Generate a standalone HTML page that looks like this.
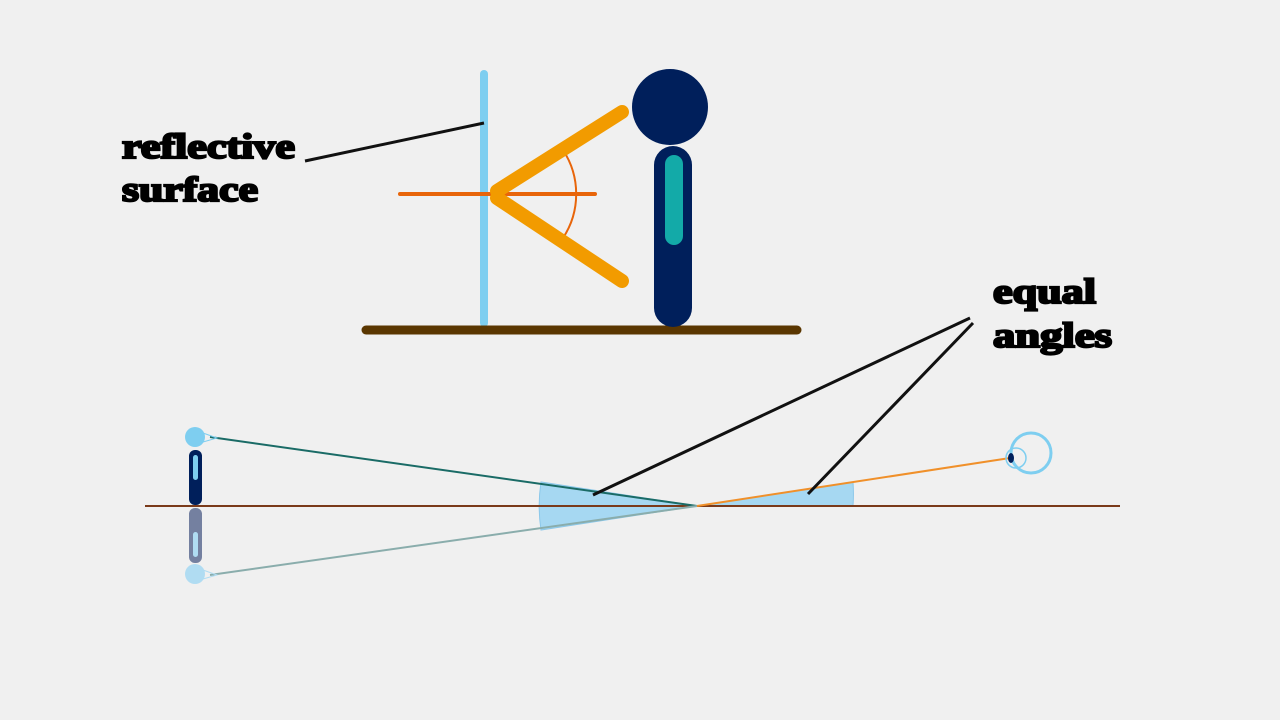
<!DOCTYPE html>
<html><head><meta charset="utf-8"><style>
html,body{margin:0;padding:0;background:#f0f0f0;}
svg{display:block}
text{font-family:"Liberation Serif",serif;font-weight:bold;font-size:35px;fill:#000;stroke:#000;stroke-width:2.2px;}
</style></head><body>
<svg width="1280" height="720" viewBox="0 0 1280 720">
<rect width="1280" height="720" fill="#f0f0f0"/>
<line x1="484" y1="74" x2="484" y2="323" stroke="#7ecef0" stroke-width="8" stroke-linecap="round"/>
<line x1="366" y1="330" x2="797" y2="330" stroke="#5a3600" stroke-width="9" stroke-linecap="round"/>
<line x1="400" y1="194" x2="595" y2="194" stroke="#e8650a" stroke-width="4" stroke-linecap="round"/>
<path d="M563,150 A80,80 0 0 1 563,238" fill="none" stroke="#e8650a" stroke-width="2"/>
<line x1="497" y1="191" x2="622" y2="112" stroke="#f29b00" stroke-width="14" stroke-linecap="round"/>
<line x1="497" y1="198" x2="622" y2="281" stroke="#f29b00" stroke-width="14" stroke-linecap="round"/>
<circle cx="670" cy="107" r="38" fill="#001f5b"/>
<rect x="654" y="146" width="38" height="181" rx="19" fill="#001f5b"/>
<rect x="665" y="155" width="18" height="90" rx="9" fill="#13aaa8"/>
<line x1="305" y1="161" x2="484" y2="123" stroke="#111" stroke-width="3"/>
<text x="122" y="158" textLength="173" lengthAdjust="spacingAndGlyphs">reflective</text>
<text x="122" y="201" textLength="136" lengthAdjust="spacingAndGlyphs">surface</text>
<path d="M697,506 L541,482 A158,158 0 0 0 541,530 Z" fill="#a6d8f2" stroke="#8cc8ea" stroke-width="1"/>
<path d="M697,506 L853,506 A158,158 0 0 0 853,482 Z" fill="#a6d8f2" stroke="#8cc8ea" stroke-width="1"/>
<line x1="145" y1="506" x2="1120" y2="506" stroke="#7a3a1a" stroke-width="2"/>
<line x1="210" y1="437" x2="697" y2="506" stroke="#1a6b66" stroke-width="2"/>
<line x1="210" y1="575" x2="697" y2="506" stroke="#8aadac" stroke-width="2"/>
<line x1="697" y1="506" x2="1010" y2="458" stroke="#f0902a" stroke-width="2"/>
<circle cx="195" cy="437" r="10" fill="#7ecef0"/>
<path d="M203,433 L217,438 L203,442" fill="none" stroke="#7ecef0" stroke-width="1"/>
<rect x="189" y="450" width="13" height="55" rx="6" fill="#001f5b"/>
<rect x="193" y="455" width="5" height="25" rx="2.5" fill="#7ecef0"/>
<rect x="189" y="508" width="13" height="55" rx="6" fill="#7480a0"/>
<rect x="193" y="532" width="5" height="25" rx="2.5" fill="#b0dcf2"/>
<circle cx="195" cy="574" r="10" fill="#b0dcf2"/>
<path d="M203,570 L217,575 L203,579" fill="none" stroke="#b0dcf2" stroke-width="1"/>
<circle cx="1016" cy="458" r="10" fill="none" stroke="#7ecef0" stroke-width="1.5"/>
<circle cx="1031" cy="453" r="20" fill="none" stroke="#7ecef0" stroke-width="3"/>
<ellipse cx="1011" cy="458" rx="3" ry="5" fill="#001f5b"/>
<line x1="593" y1="495" x2="970" y2="318" stroke="#111" stroke-width="3"/>
<line x1="808" y1="494" x2="973" y2="323" stroke="#111" stroke-width="3"/>
<text x="993" y="303" textLength="103" lengthAdjust="spacingAndGlyphs">equal</text>
<text x="993" y="347" textLength="119" lengthAdjust="spacingAndGlyphs">angles</text>
</svg>
</body></html>
